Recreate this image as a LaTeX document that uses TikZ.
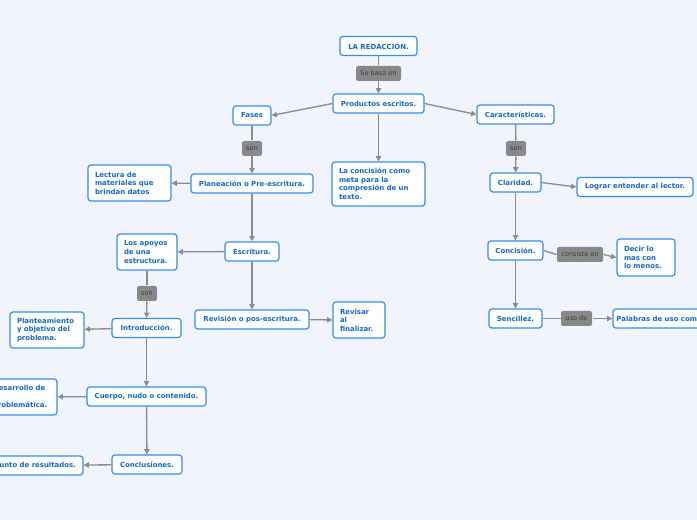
\documentclass[tikz,border=0pt]{standalone}
\usepackage{fontspec}
\setmainfont{DejaVu Sans}
\usetikzlibrary{arrows.meta}
\definecolor{bgpage}{RGB}{241,244,253}
\definecolor{boxline}{RGB}{52,140,235}
\definecolor{boxtext}{RGB}{22,104,200}
\definecolor{linkgray}{RGB}{140,140,140}
\definecolor{taggray}{RGB}{136,136,136}
\definecolor{tagtext}{RGB}{62,62,62}
\tikzset{every picture/.style={line width=0.75pt}}

\begin{document}
\begin{tikzpicture}[x=0.75pt,y=0.75pt,yscale=-1,xscale=1,
  topic/.style={draw=boxline, fill=white, rounded corners=2.2pt, line width=0.9pt, text=boxtext,
    font=\fontsize{5.2}{6.4}\selectfont\bfseries, minimum height=14.25pt, inner sep=2pt},
  note/.style={topic, align=left, inner xsep=5.25pt, text width=#1},
  tag/.style={fill=taggray, rounded corners=1.6pt, text=tagtext, font=\fontsize{4.9}{6}\selectfont,
    minimum height=11.25pt, inner sep=1.5pt},
  link/.style={draw=linkgray, line width=1pt},
  linkto/.style={link, -{Triangle[length=4pt,width=4pt]}}]
\useasboundingbox (0,0) rectangle (697,520);
\clip (0,0) rectangle (697,520);
\fill[bgpage] (0,0) rectangle (697,520);

% main trunk
\node[topic, minimum width=57.75pt] (redaccion) at (378.5,46) {LA REDACCIÓN.};
\node[tag, minimum width=33.75pt] (sebasa) at (378.5,73.5) {Se basa en};
\node[topic, minimum width=68.25pt] (productos) at (378.5,103.5) {Productos escritos.};
\node[topic, minimum width=28.5pt] (fases) at (252,115.5) {Fases};
\node[topic, minimum width=57.75pt] (caract) at (515.5,114.5) {Características.};
\node[note=59.25pt, minimum height=33pt] (meta) at (378.5,184) {La concisión como\\meta para la\\compresión de un\\texto.};

% fases
\node[tag, minimum width=15pt] (son1) at (252,148.5) {son};
\node[topic, minimum width=91.5pt] (planeacion) at (252,183.5) {Planeación o Pre-escritura.};
\node[note=51.75pt, minimum height=27pt] (lectura) at (129.5,183) {Lectura de\\materiales que\\brindan datos};
\node[topic, minimum width=40.5pt] (escritura) at (252,251.5) {Escritura.};
\node[note=34.5pt, minimum height=27pt] (apoyos) at (147,252) {Los apoyos\\de una\\estructura.};
\node[topic, minimum width=85.5pt] (revision) at (252,319.5) {Revisión o pos-escritura.};
\node[note=28.5pt, minimum height=27pt] (revisar) at (359,320) {Revisar\\al\\finalizar.};
\node[tag, minimum width=15pt] (son3) at (147,293.5) {son};
\node[topic, minimum width=51.75pt] (introduccion) at (146.5,328) {Introducción.};
\node[note=45pt, minimum height=27pt] (planteamiento) at (47,330) {Planteamiento\\y objetivo del\\problema.};
\node[topic, minimum width=89.25pt] (cuerpo) at (146.5,396.5) {Cuerpo, nudo o contenido.};
\node[note=42.75pt, minimum height=27pt] (desarrollo) at (21.5,397) {Desarrollo de\\la\\problemática.};
\node[topic, minimum width=52.5pt] (conclusiones) at (147,464.5) {Conclusiones.};
\node[topic, minimum width=81pt] (conjunto) at (29,465.5) {Conjunto de resultados.};

% caracteristicas
\node[tag, minimum width=15pt] (son2) at (516,148.5) {son};
\node[topic, minimum width=38.25pt] (claridad) at (515.5,182.5) {Claridad.};
\node[topic, minimum width=87pt] (lograr) at (635,187) {Lograr entender al lector.};
\node[topic, minimum width=41.25pt] (concision) at (515.5,250.5) {Concisión.};
\node[tag, minimum width=34.5pt] (consiste) at (580,254.5) {consiste en};
\node[note=33pt, minimum height=27.75pt] (decir) at (646,257.5) {Decir lo\\mas con\\lo menos.};
\node[topic, minimum width=39.75pt] (sencillez) at (515.5,318.5) {Sencillez.};
\node[tag, minimum width=23.25pt] (usode) at (576.5,318.5) {uso de};
\node[topic, minimum width=75pt] (palabras) at (663,318.5) {Palabras de uso común.};

% connectors
\draw[link] (redaccion) -- (sebasa);
\draw[linkto] (sebasa) -- (productos);
\draw[linkto] (productos.west) -- (fases.east);
\draw[linkto] (productos.east) -- (caract.west);
\draw[linkto] (productos) -- (meta);
\draw[link] (fases) -- (son1);
\draw[linkto] (son1) -- (planeacion);
\draw[linkto] (planeacion) -- (lectura);
\draw[linkto] (planeacion) -- (escritura);
\draw[linkto] (escritura) -- (apoyos);
\draw[linkto] (escritura) -- (revision);
\draw[linkto] (revision) -- (revisar);
\draw[link] (apoyos) -- (son3);
\draw[linkto] (son3) -- (introduccion);
\draw[linkto] (introduccion) -- (planteamiento);
\draw[linkto] (introduccion) -- (cuerpo);
\draw[linkto] (cuerpo) -- (desarrollo);
\draw[linkto] (cuerpo) -- (conclusiones);
\draw[linkto] (conclusiones) -- (conjunto);
\draw[link] (caract) -- (son2);
\draw[linkto] (son2) -- (claridad);
\draw[linkto] (claridad.east) -- (lograr.west);
\draw[linkto] (claridad) -- (concision);
\draw[link] (concision.east) -- (consiste.west);
\draw[linkto] (consiste.east) -- (decir.west);
\draw[linkto] (concision) -- (sencillez);
\draw[link] (sencillez) -- (usode);
\draw[linkto] (usode) -- (palabras);

\end{tikzpicture}
\end{document}
